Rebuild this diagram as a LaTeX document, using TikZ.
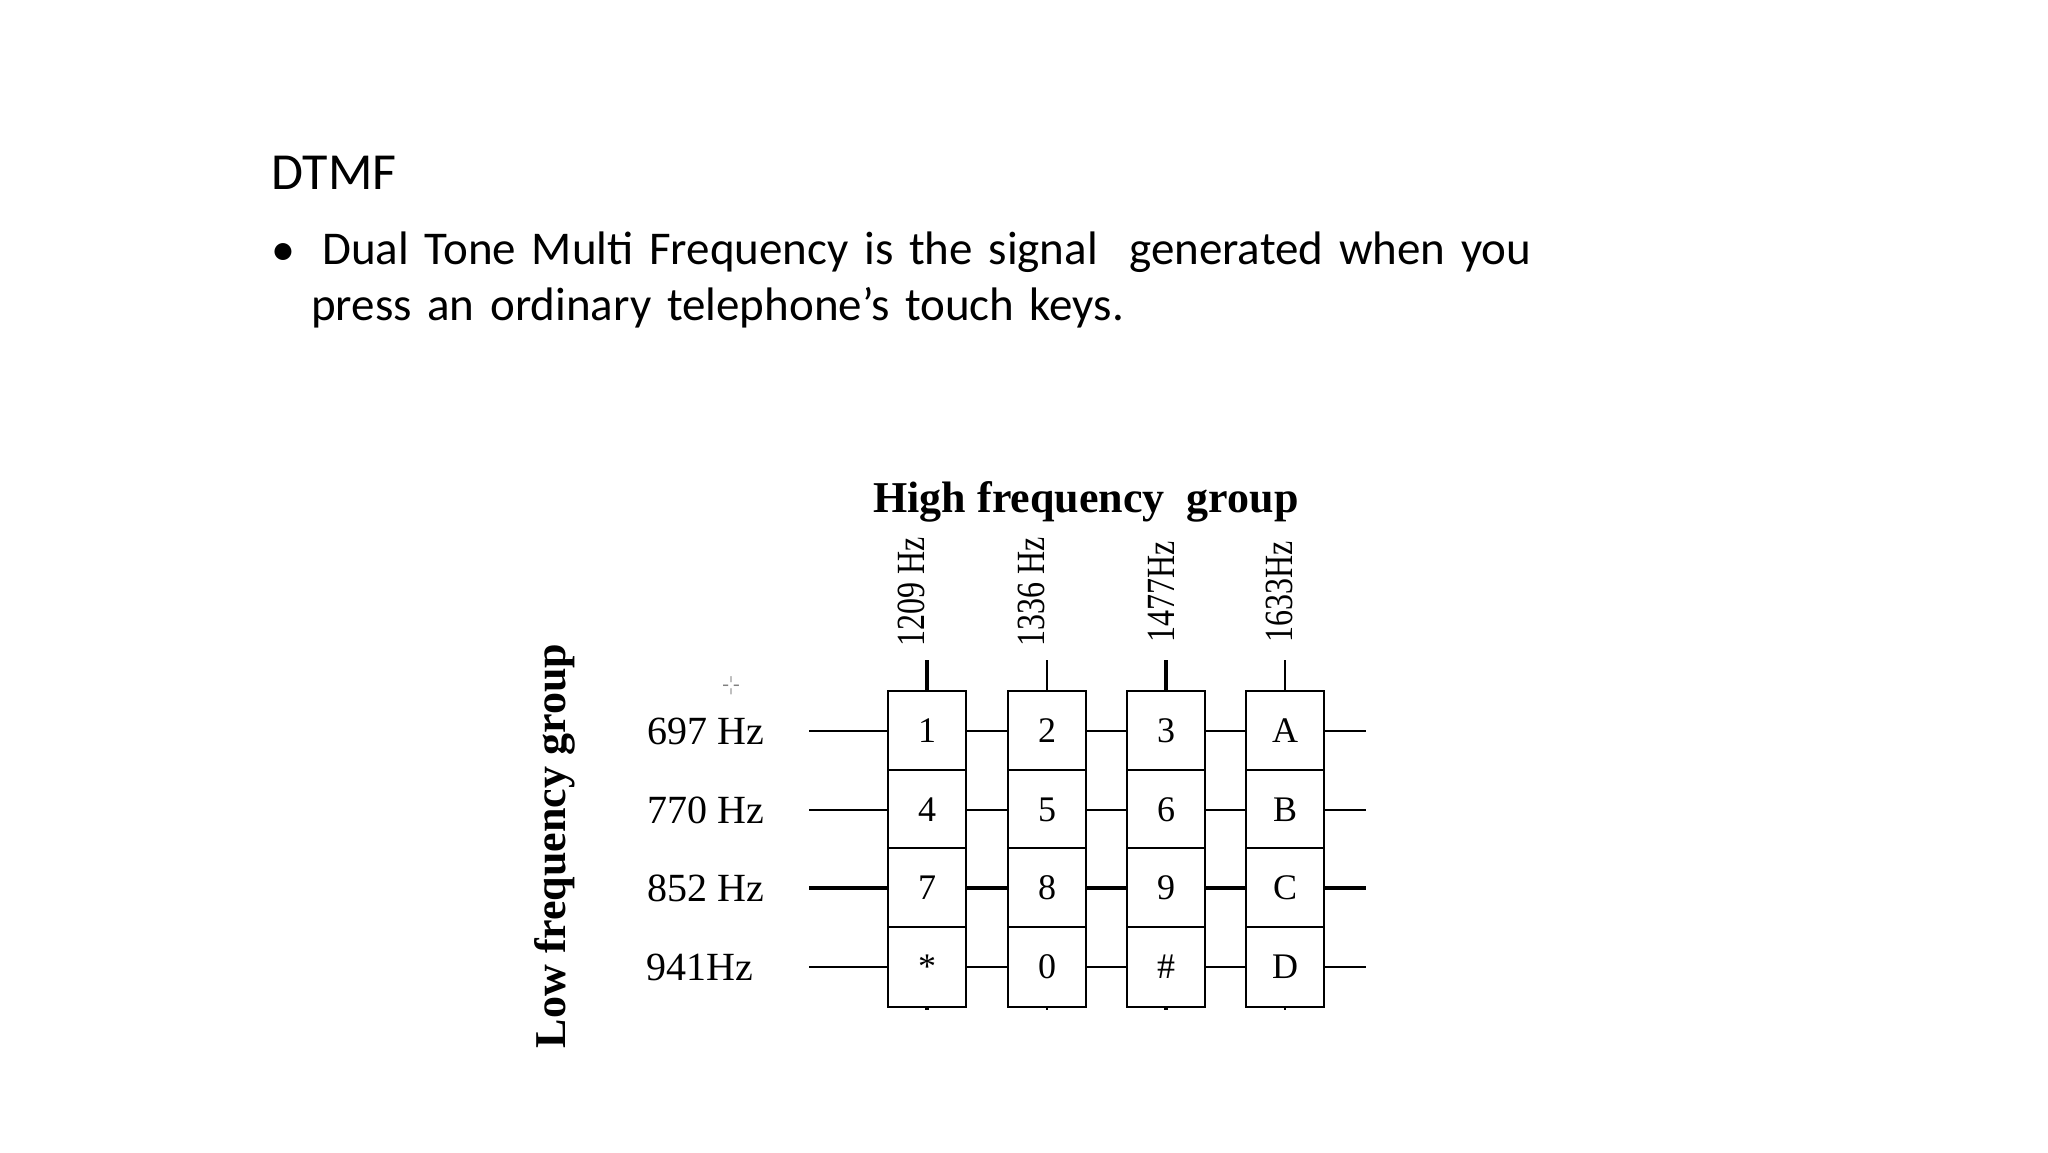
\documentclass[tikz,border=0pt]{standalone}
\usepackage{fontspec}
\setmainfont{Carlito}
\newfontfamily\tms{Liberation Serif}
\begin{document}
\begin{tikzpicture}[x=1pt,y=-1pt,
  key/.style={draw,line width=2pt,fill=white,minimum width=78pt,minimum height=80pt,inner sep=0pt,font=\tms\fontsize{36}{36}\selectfont},
  wire/.style={line width=2pt},
  thick wire/.style={line width=4pt},
  lbl/.style={font=\tms\fontsize{40}{40}\selectfont,anchor=center},
  clbl/.style={font=\tms\fontsize{40}{40}\selectfont,rotate=90,xscale=0.8}]
\useasboundingbox (0,0) rectangle (2048,1152);
\node[anchor=west,font=\fontsize{52}{52}\selectfont] (title) at (268,173) {DTMF};
\node[anchor=west,font=\fontsize{48}{48}\selectfont] (bul) at (268,255) {•};
\node[anchor=north west,align=left,text width=1400pt,inner sep=0pt,font=\fontsize{47}{56}\selectfont] (body) at (311,232) {\hspace*{11pt}Dual Tone Multi Frequency is the signal\ \ generated when you\\press an ordinary telephone's touch keys.};
% coordinates
\foreach \c/\x in {1/927,2/1047,3/1166,4/1285}{
  \coordinate (t\c) at (\x,659);
  \coordinate (b\c) at (\x,1010);
}
\node[font=\tms\bfseries\fontsize{44}{44}\selectfont] (hfg) at (1086,502) {High frequency\ \ group};
\node[font=\tms\bfseries\fontsize{44}{44}\selectfont,rotate=90] (lfg) at (555,846) {Low frequency group};
\node[clbl] (c1) at (911,592) {1209 Hz};
\node[clbl] (c2) at (1031,592) {1336 Hz};
\node[clbl] (c3) at (1161,592) {1477Hz};
\node[clbl] (c4) at (1279,592) {1633Hz};
\node[lbl] (r1) at (706,731) {697 Hz};
\node[lbl] (r2) at (706,810) {770 Hz};
\node[lbl] (r3) at (706,888) {852 Hz};
\node[lbl] (r4) at (700,967) {941Hz};
\coordinate (ct1) at (927,660);
\coordinate (ct2) at (1047,660);
\coordinate (ct3) at (1166,660);
\coordinate (ct4) at (1285,660);
\coordinate (cb1) at (927,1010);
\coordinate (cb2) at (1047,1010);
\coordinate (cb3) at (1166,1010);
\coordinate (cb4) at (1285,1010);
\coordinate (rl1) at (809,731);
\coordinate (rl2) at (809,810);
\coordinate (rl3) at (809,888);
\coordinate (rl4) at (809,967);
\coordinate (rr1) at (1366,731);
\coordinate (rr2) at (1366,810);
\coordinate (rr3) at (1366,888);
\coordinate (rr4) at (1366,967);
\draw[thick wire] (ct1) -- (cb1);
\draw[wire] (ct2) -- (cb2);
\draw[thick wire] (ct3) -- (cb3);
\draw[wire] (ct4) -- (cb4);
\draw[wire] (rl1) -- (rr1);
\draw[wire] (rl2) -- (rr2);
\draw[thick wire] (rl3) -- (rr3);
\draw[wire] (rl4) -- (rr4);
\foreach \lab/\x/\y/\n in {1/927/731/k1,2/1047/731/k2,3/1166/731/k3,A/1285/731/kA,
  4/927/810/k4,5/1047/810/k5,6/1166/810/k6,B/1285/810/kB,
  7/927/888/k7,8/1047/888/k8,9/1166/888/k9,C/1285/888/kC,
  */927/967/ks,0/1047/967/k0,\#/1166/967/kh,D/1285/967/kD}{
  \node[key] (\n) at (\x,\y) {\lab};
}
\node[font=\tms\fontsize{20}{20}\selectfont,gray] (cross) at (731,686) {-¦-};
\end{tikzpicture}
\end{document}
